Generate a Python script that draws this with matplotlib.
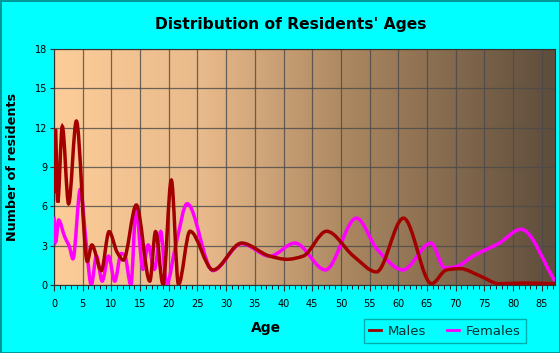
import numpy as np
import matplotlib.pyplot as plt
from matplotlib.path import Path
from matplotlib.patches import PathPatch
from matplotlib.colors import LinearSegmentedColormap
from matplotlib.ticker import MultipleLocator

# data (age, number of residents)
male_age = [0, 0.25, 0.65, 1.45, 2.55, 3.9, 5.8, 6.6, 8.25, 9.6, 11.0, 12.1, 14.35,
            16.7, 17.7, 19.0, 20.45, 21.7, 23.7, 27.7, 32.7, 37.6, 40.6, 43.4,
            47.5, 52.2, 56.2, 60.9, 65.8, 68.4, 70.8, 74.2, 77.6, 82.0, 87.3]
male_val = [7.0, 11.9, 6.3, 12.1, 6.2, 12.5, 1.8, 3.05, 1.1, 4.07, 2.5, 1.9, 6.1,
            0.3, 4.07, 0.05, 8.0, 0.05, 4.1, 1.15, 3.2, 2.2, 1.96, 2.2,
            4.1, 2.2, 1.0, 5.1, 0.1, 1.15, 1.25, 0.7, 0.1, 0.15, 0.1]

female_age = [0, 0.3, 0.8, 1.85, 2.7, 3.3, 4.6, 5.6, 6.5, 7.4, 8.4, 9.5, 10.6, 11.7,
              12.3, 13.4, 14.3, 15.5, 16.4, 17.5, 18.6, 19.6, 21.3, 23.2, 27.7,
              32.7, 37.6, 42.0, 47.3, 52.7, 56.4, 60.8, 65.7, 68.1, 70.1, 73.0,
              77.6, 81.4, 87.3]
female_val = [5.2, 3.3, 4.95, 3.7, 2.9, 2.0, 7.3, 3.2, 0.0, 2.2, 0.3, 2.2, 0.3, 2.4,
              2.3, 0.0, 5.8, 1.2, 3.05, 1.2, 4.07, 0.05, 3.2, 6.2, 1.1,
              3.15, 2.2, 3.2, 1.15, 5.1, 2.67, 1.15, 3.2, 1.3, 1.4, 2.2,
              3.2, 4.25, 0.3]

yticks = [0, 3, 6, 9, 12, 15, 18]
xticks = list(range(0, 90, 5))


def smooth_path(x, y):
    # monotone cubic tangents, drawn as bezier segments
    x = np.asarray(x, float)
    y = np.asarray(y, float)
    h = np.diff(x)
    d = np.diff(y) / h
    m = np.zeros_like(y)
    m[0], m[-1] = d[0], d[-1]
    for i in range(1, len(y) - 1):
        if d[i - 1] * d[i] <= 0:
            m[i] = 0
        else:
            w1 = 2 * h[i] + h[i - 1]
            w2 = h[i] + 2 * h[i - 1]
            m[i] = (w1 + w2) / (w1 / d[i - 1] + w2 / d[i])
    verts = [(x[0], y[0])]
    codes = [Path.MOVETO]
    for i in range(len(h)):
        verts += [(x[i] + h[i] / 3, y[i] + m[i] * h[i] / 3),
                  (x[i + 1] - h[i] / 3, y[i + 1] - m[i + 1] * h[i] / 3),
                  (x[i + 1], y[i + 1])]
        codes += [Path.CURVE4] * 3
    return Path(verts, codes)


fig = plt.figure(figsize=(5.6, 3.53), dpi=100, facecolor='#00FFFF',
                 edgecolor='#009999', linewidth=2)
ax = fig.add_axes([0.0964, 0.1926, 0.8946, 0.6686])

xmax = 87.3
cmap = LinearSegmentedColormap.from_list(
    'bg', [(0, '#FDCD99'), (0.3, '#E8B98A'), (0.6, '#A8855F'), (1, '#5E4D3C')])
ax.imshow(np.linspace(0, 1, 256).reshape(1, -1), extent=[0, xmax, 0, 18],
          aspect='auto', cmap=cmap, zorder=0)

male_color = '#A30000'
female_color = '#FF00FF'
ax.add_patch(PathPatch(smooth_path(female_age, female_val), fill=False,
                       edgecolor=female_color, lw=2.5, zorder=3))
ax.add_patch(PathPatch(smooth_path(male_age, male_val), fill=False,
                       edgecolor=male_color, lw=2.5, zorder=4))
ax.plot([], [], color=male_color, lw=2, label='Males')
ax.plot([], [], color=female_color, lw=2, label='Females')

ax.set_xlim(0, xmax)
ax.set_ylim(0, 18)
ax.set_xticks(xticks)
ax.set_yticks(yticks)
ax.xaxis.set_minor_locator(MultipleLocator(1))
ax.tick_params(axis='both', labelsize=7, color='#333333', direction='out')
ax.tick_params(axis='x', which='major', length=4, pad=6)
ax.tick_params(axis='x', which='minor', length=3)
ax.tick_params(axis='y', length=3, pad=2)
ax.grid(True, color='#4a4a4a', lw=0.9, alpha=0.8)
for s in ax.spines.values():
    s.set_color('#333333')
    s.set_linewidth(0.8)

fig.text(0.52, 0.93, "Distribution of Residents' Ages", ha='center', va='center',
         fontsize=11.2, fontweight='bold')
ax.set_ylabel('Number of residents', fontsize=9.2, fontweight='bold', labelpad=11)
fig.text(0.475, 0.072, 'Age', ha='center', va='center', fontsize=10,
         fontweight='bold')

leg = fig.legend(loc='center', bbox_to_anchor=(0.794, 0.062), ncol=2,
                 fontsize=9.5, handlelength=0.9, handletextpad=0.5,
                 columnspacing=1.6, fancybox=False, frameon=True,
                 borderpad=0.4)
leg.get_frame().set_facecolor('#00FFFF')
leg.get_frame().set_edgecolor('#009999')
leg.get_frame().set_linewidth(1)
for t in leg.get_texts():
    t.set_color('#003333')

fig.savefig('out.png', dpi=100, facecolor=fig.get_facecolor(),
            edgecolor=fig.get_edgecolor())
